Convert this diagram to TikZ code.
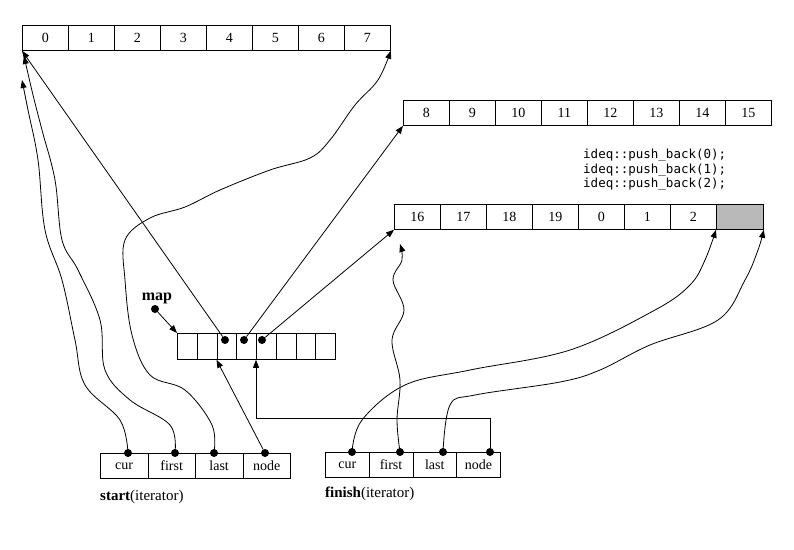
\documentclass[tikz,border=0pt]{standalone}
\usepackage{fontspec}
\setmainfont{Liberation Serif}
\newfontfamily\codefont{DejaVu Sans Mono}
\usetikzlibrary{arrows.meta}
\begin{document}
\begin{tikzpicture}[x=1pt,y=-1pt,
  cell/.style={draw,line width=0.8pt,minimum height=25pt,inner sep=0pt,font=\fontsize{14}{16}\selectfont,anchor=north west},
  ptr/.style={line width=0.8pt,-{Triangle[length=8pt,width=6pt]}},
  dot/.style={circle,fill,inner sep=0pt,minimum size=8pt},
  lbl/.style={font=\fontsize{15}{17}\selectfont,anchor=west,inner sep=0pt}]
\useasboundingbox (0,0) rectangle (794,549);
\foreach \i in {0,...,7} \node[cell,minimum width=46pt] (a\i) at ({22+46*\i},25) {\i};
\foreach \i [evaluate=\i as \n using int(\i+8)] in {0,...,7} \node[cell,minimum width=46pt] (b\i) at ({403+46*\i},100) {\n};
\foreach \t [count=\i from 0] in {16,17,18,19,0,1,2} \node[cell,minimum width=46pt] (c\i) at ({394+46*\i},204) {\t};
\node[cell,minimum width=47pt,fill=gray!55] (c7) at (716,204) {};
\node[font=\codefont\fontsize{12.5}{14.5}\selectfont,align=left,anchor=north west,inner sep=0pt] (code) at (583,149) {ideq::push\_back(0);\\ideq::push\_back(1);\\ideq::push\_back(2);};
\foreach \i in {0,...,7} \node[cell,minimum width=19.75pt,minimum height=26pt] (m\i) at ({177+19.75*\i},333) {};
\node[font=\bfseries\fontsize{16}{18}\selectfont,inner sep=0pt] (maplbl) at (157,298) {map};
\node[dot] (mapdot) at (155,309) {};
\draw[ptr] (mapdot) -- (m0.north west);
\node[dot] (md2) at (225,340) {};
\node[dot] (md3) at (244,340) {};
\node[dot] (md4) at (262,340) {};
\draw[ptr] (md2) -- (a0.south west);
\draw[ptr] (md3) -- (b0.south west);
\draw[ptr] (md4) -- (c0.south west);
\foreach \t [count=\i from 0] in {cur,first,last,node} \node[cell,minimum width=47.5pt] (s\i) at ({100+47.5*\i},453) {\t};
\node[lbl] (slbl) at (100,497) {\textbf{start}(iterator)};
\foreach \t [count=\i from 0] in {cur,first,last,node} \node[cell,minimum width=43.75pt] (f\i) at ({325+43.75*\i},452) {\t};
\node[lbl] (flbl) at (325,494) {\textbf{finish}(iterator)};
\node[dot] (sd0) at (128,453) {};
\node[dot] (sd1) at (175,453) {};
\node[dot] (sd2) at (214,453) {};
\node[dot] (sd3) at (265,453) {};
\node[dot] (fd0) at (352,452) {};
\node[dot] (fd1) at (400,452) {};
\node[dot] (fd2) at (443,452) {};
\node[dot] (fd3) at (490,452) {};
\coordinate (ta) at (22,80);
\coordinate (tb) at (24,56);
\coordinate (tc) at (400,244);
\draw[ptr] (sd3) -- (m2.south west);
\draw[ptr] (fd3) -- (490,418) -| (m4.south west);
\draw[ptr] plot[smooth,tension=0.6] coordinates {(sd0) (120,420) (85,385) (75,340) (62,280) (45,230) (38,160) (28,110) (ta)};
\draw[ptr] plot[smooth,tension=0.6] coordinates {(sd1) (170,425) (130,400) (105,370) (100,320) (78,270) (62,240) (55,180) (42,130) (33,95) (tb)};
\draw[ptr] plot[smooth,tension=0.6] coordinates {(sd2) (212,425) (185,390) (150,375) (132,335) (125,280) (125,240) (150,218) (185,207) (220,190) (270,170) (310,158) (330,140) (355,105) (378,80) (a7.south east)};
\draw[ptr] plot[smooth,tension=0.6] coordinates {(fd0) (362,420) (405,385) (470,370) (570,350) (655,310) (690,285) (705,260) (c7.south west)};
\draw[ptr] plot[smooth,tension=0.6] coordinates {(fd1) (397,420) (400,380) (392,340) (404,310) (393,280) (402,260) (tc)};
\draw[ptr] plot[smooth,tension=0.6] coordinates {(fd2) (450,405) (475,395) (560,382) (600,370) (650,345) (718,320) (745,280) (758,250) (c7.south east)};
\end{tikzpicture}
\end{document}
